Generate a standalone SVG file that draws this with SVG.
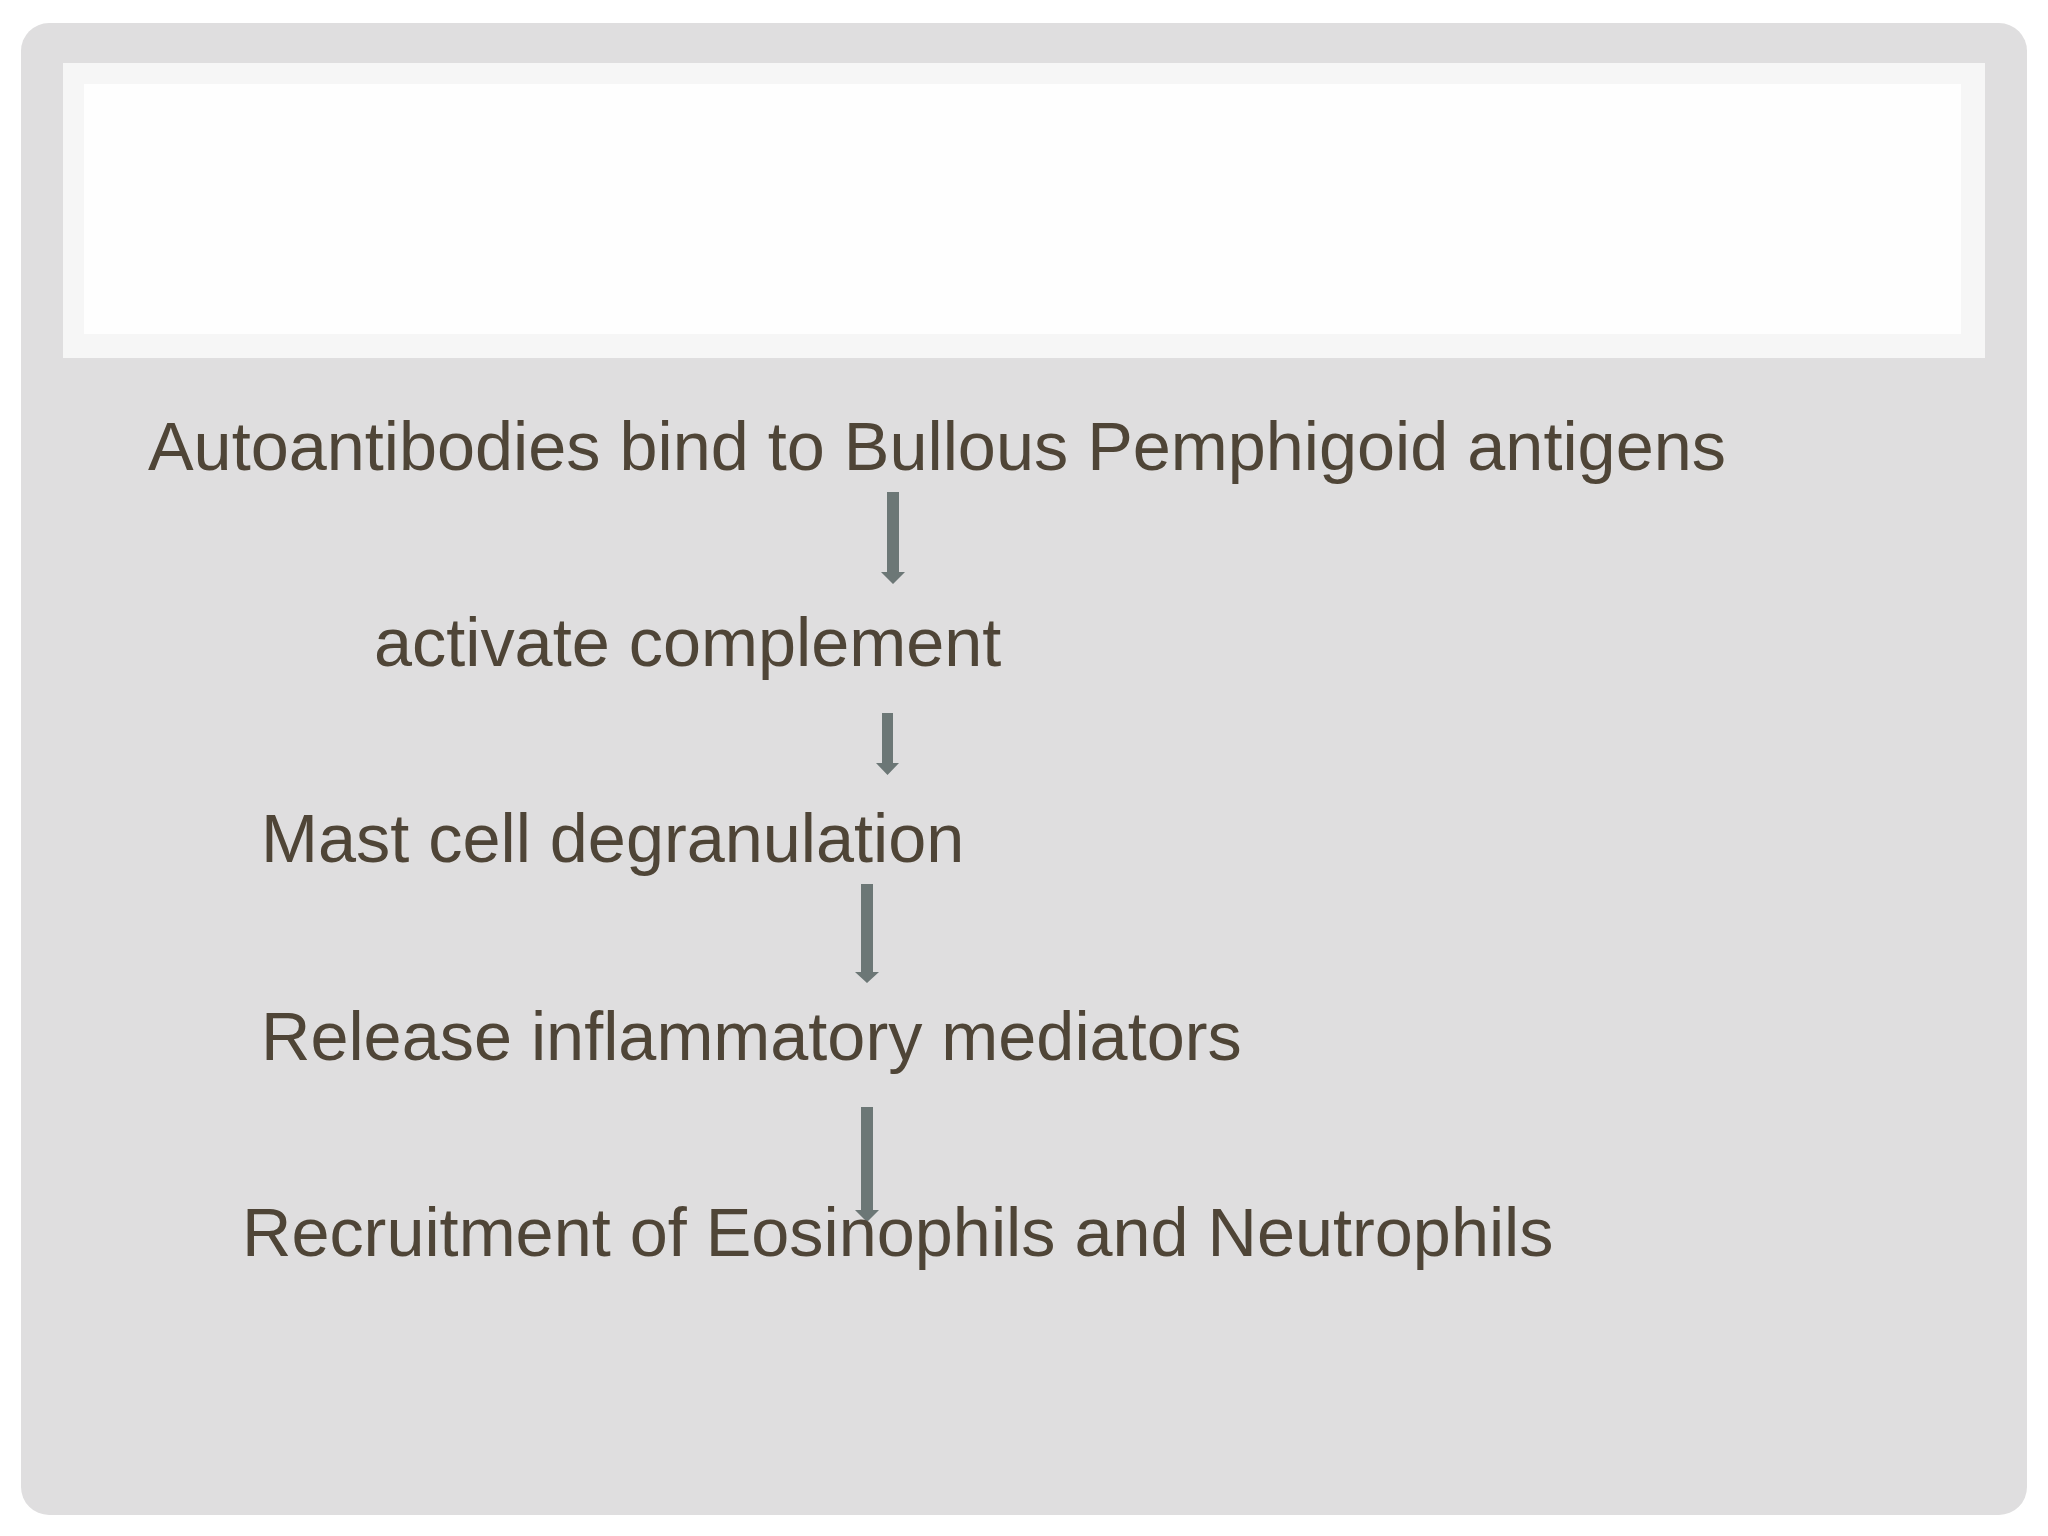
<svg xmlns="http://www.w3.org/2000/svg" width="2048" height="1536" viewBox="0 0 2048 1536">
<style>
.t{font-family:"Liberation Sans",Arial,sans-serif;font-size:68.4px;fill:#4f4537}
.ar{fill:#6c7776}
</style>
<rect x="0" y="0" width="2048" height="1536" fill="#ffffff"/>
<rect id="slide" x="21" y="23" width="2006" height="1492" rx="28" fill="#dfdedf"/>
<rect id="title-frame" x="63" y="63" width="1922" height="295" fill="#f6f6f6"/>
<rect id="title-box" x="84" y="84" width="1877" height="250" fill="#fefefe"/>
<g id="connectors">
<path class="ar" d="M887 492 H899 V572 H905 L893 584 L881 572 H887 Z"/>
<path class="ar" d="M882 713 H893 V763 H899 L887.5 775 L876 763 H882 Z"/>
<path class="ar" d="M861 884 H873 V972 H879 L867 983 L855 972 H861 Z"/>
<path class="ar" d="M861 1107 H873 V1210 H879 L867 1222 L855 1210 H861 Z"/>
</g>
<g id="n1"><text class="t" x="148" y="470">Autoantibodies bind to Bullous Pemphigoid antigens</text></g>
<g id="n2"><text class="t" x="374" y="666">activate complement</text></g>
<g id="n3"><text class="t" x="261" y="862">Mast cell degranulation</text></g>
<g id="n4"><text class="t" x="261" y="1060">Release inflammatory mediators</text></g>
<g id="n5"><text class="t" x="242" y="1256">Recruitment of Eosinophils and Neutrophils</text></g>
</svg>
